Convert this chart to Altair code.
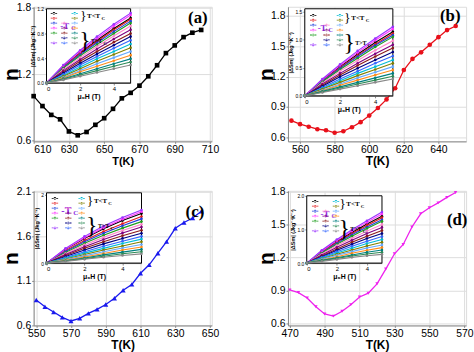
import altair as alt
import pandas as pd

SERIF = "Liberation Serif, Times New Roman, serif"

# ---------------- main curves n(T) ----------------
T_a = [610, 615, 620, 625, 630, 635, 640, 645, 650, 655, 660, 665, 670, 675, 680, 685, 690, 695, 700, 705]
n_a = [1.00, 0.91, 0.83, 0.79, 0.68, 0.645, 0.675, 0.74, 0.80, 0.885, 0.98, 1.03, 1.095, 1.18, 1.28, 1.39, 1.46, 1.535, 1.575, 1.60]

T_b = [555, 560, 565, 570, 575, 580, 585, 590, 595, 600, 605, 610, 615, 620, 625, 630, 635, 640, 645, 650]
n_b = [0.765, 0.73, 0.705, 0.68, 0.67, 0.645, 0.66, 0.70, 0.75, 0.815, 0.89, 0.975, 1.085, 1.265, 1.375, 1.44, 1.515, 1.59, 1.66, 1.70]

T_c = [550, 555, 560, 565, 570, 575, 580, 585, 590, 595, 600, 605, 610, 615, 620, 625, 630, 635, 640, 645]
n_c = [0.885, 0.81, 0.75, 0.69, 0.65, 0.68, 0.735, 0.78, 0.835, 0.905, 0.995, 1.06, 1.185, 1.28, 1.41, 1.54, 1.69, 1.755, 1.805, 1.88]

T_d = [470, 475, 480, 485, 490, 495, 500, 505, 510, 515, 520, 525, 530, 535, 540, 545, 550, 555, 560, 565]
n_d = [0.905, 0.88, 0.83, 0.75, 0.685, 0.665, 0.71, 0.77, 0.84, 0.875, 0.96, 1.095, 1.235, 1.32, 1.48, 1.60, 1.655, 1.70, 1.75, 1.795]

# ---------------- inset curves |dSm|(mu0H) ----------------
H_field = [0, 1, 2, 3, 4, 5]
curve_ids = ["c01", "c02", "c03", "c04", "c05", "c06", "c07", "c08", "c09",
             "c10", "c11", "c12", "c13", "c14", "c15", "c16", "c17", "c18"]
curve_colors = ["#000000", "#e41a1c", "#1f3fdd", "#ff33ff", "#1f9e1f", "#9933ff",
                "#ff88cc", "#800080", "#8b1a1a", "#000080", "#3366ff", "#00bcd4",
                "#808000", "#66aaff", "#ff8c1a", "#008080", "#2e8b57", "#888888"]

dS_a = [[0.27, 0.49, 0.69, 0.88, 1.05], [0.26, 0.48, 0.67, 0.86, 1.03], [0.25, 0.46, 0.65, 0.83, 1.00],
        [0.28, 0.51, 0.72, 0.92, 1.10], [0.24, 0.44, 0.62, 0.80, 0.97], [0.29, 0.53, 0.75, 0.95, 1.13],
        [0.22, 0.41, 0.59, 0.76, 0.92], [0.20, 0.38, 0.55, 0.71, 0.86], [0.18, 0.35, 0.51, 0.66, 0.80],
        [0.16, 0.32, 0.47, 0.61, 0.75], [0.14, 0.29, 0.43, 0.56, 0.69], [0.12, 0.26, 0.39, 0.51, 0.63],
        [0.11, 0.23, 0.35, 0.46, 0.57], [0.09, 0.20, 0.31, 0.41, 0.51], [0.08, 0.18, 0.27, 0.36, 0.45],
        [0.07, 0.15, 0.23, 0.31, 0.39], [0.06, 0.13, 0.20, 0.27, 0.34], [0.05, 0.11, 0.17, 0.23, 0.29]]
dS_b = [[0.28, 0.52, 0.74, 0.95, 1.14], [0.27, 0.50, 0.72, 0.92, 1.11], [0.26, 0.49, 0.70, 0.90, 1.08],
        [0.29, 0.54, 0.77, 0.99, 1.19], [0.25, 0.47, 0.67, 0.87, 1.05], [0.30, 0.56, 0.80, 1.02, 1.23],
        [0.23, 0.44, 0.63, 0.81, 0.98], [0.21, 0.40, 0.58, 0.75, 0.91], [0.19, 0.37, 0.54, 0.70, 0.85],
        [0.17, 0.34, 0.49, 0.64, 0.78], [0.15, 0.30, 0.44, 0.58, 0.71], [0.13, 0.27, 0.40, 0.52, 0.64],
        [0.12, 0.24, 0.36, 0.47, 0.58], [0.10, 0.21, 0.32, 0.42, 0.52], [0.09, 0.19, 0.28, 0.37, 0.46],
        [0.08, 0.16, 0.24, 0.32, 0.40], [0.07, 0.14, 0.21, 0.28, 0.35], [0.06, 0.12, 0.18, 0.24, 0.30]]
dS_c = [[0.40, 0.72, 1.00, 1.24, 1.45], [0.36, 0.66, 0.92, 1.15, 1.36], [0.34, 0.62, 0.87, 1.09, 1.29],
        [0.41, 0.74, 1.03, 1.28, 1.50], [0.31, 0.58, 0.81, 1.02, 1.21], [0.43, 0.78, 1.08, 1.33, 1.55],
        [0.28, 0.53, 0.75, 0.95, 1.13], [0.25, 0.48, 0.69, 0.88, 1.05], [0.22, 0.43, 0.62, 0.80, 0.96],
        [0.19, 0.38, 0.56, 0.72, 0.87], [0.16, 0.33, 0.49, 0.64, 0.78], [0.14, 0.29, 0.43, 0.57, 0.70],
        [0.12, 0.25, 0.38, 0.50, 0.62], [0.10, 0.21, 0.33, 0.44, 0.54], [0.08, 0.18, 0.28, 0.38, 0.47],
        [0.07, 0.15, 0.24, 0.32, 0.40], [0.06, 0.13, 0.20, 0.27, 0.33], [0.05, 0.11, 0.17, 0.22, 0.27]]
dS_d = [[0.34, 0.64, 0.91, 1.16, 1.39], [0.33, 0.62, 0.88, 1.12, 1.35], [0.31, 0.59, 0.84, 1.07, 1.29],
        [0.36, 0.67, 0.95, 1.21, 1.46], [0.30, 0.56, 0.80, 1.03, 1.24], [0.38, 0.70, 0.99, 1.26, 1.52],
        [0.27, 0.52, 0.74, 0.95, 1.15], [0.24, 0.47, 0.68, 0.88, 1.06], [0.21, 0.42, 0.62, 0.80, 0.97],
        [0.19, 0.38, 0.56, 0.73, 0.88], [0.17, 0.34, 0.50, 0.65, 0.79], [0.15, 0.30, 0.44, 0.58, 0.70],
        [0.13, 0.26, 0.39, 0.51, 0.62], [0.11, 0.23, 0.34, 0.45, 0.54], [0.09, 0.19, 0.29, 0.38, 0.46],
        [0.08, 0.16, 0.24, 0.32, 0.39], [0.07, 0.14, 0.21, 0.27, 0.32], [0.05, 0.11, 0.17, 0.22, 0.26]]

# legend grid order (3 columns): T<Tc entries, the Tc entry, then T>Tc entries; blanks keep the rows
legend_order = ["c01", "c02", "c03", "c04", "c05", "_b1", "c06", "_b2", "_b3",
                "c07", "c08", "c09", "c10", "c11", "c12", "c13", "c14", "c15", "c16", "c17", "c18"]

W, HH = 180, 136
SYM = "M-1,-0.12H1V0.12H-1Z M-0.4,0 A0.4,0.4 0 1,0 0.4,0 A0.4,0.4 0 1,0 -0.4,0 Z"


def inset_df(dS):
    rows = []
    for cid, vals in zip(curve_ids, dS):
        for h, v in zip(H_field, [0.0] + vals):
            rows.append({"id": cid, "H": h, "dS": v})
    return pd.DataFrame(rows)


def txt(s, x, y, size, color="black", weight="bold", align="left"):
    return alt.Chart(pd.DataFrame({"t": [s]})).mark_text(
        font=SERIF, fontSize=size, fontWeight=weight, color=color, align=align, baseline="middle"
    ).encode(text="t:N", x=alt.value(x), y=alt.value(y))


def panel(T, n, color, shape, msize, xdom, ydom, xticks, yticks, label, lab_xy, xtitle_size,
          dS, box, ymax, iyticks, iyfmt, leg_xy, colpad, ann):
    df = pd.DataFrame({"T": T, "n": n})
    xenc = alt.X("T:Q", scale=alt.Scale(domain=xdom, nice=False, zero=False),
                 axis=alt.Axis(values=xticks, format="d", title="T(K)", labelFontSize=10.5,
                               titleFontSize=xtitle_size, tickSize=2, labelPadding=1,
                               titleY=14, titleBaseline="top"))
    yenc = alt.Y("n:Q", scale=alt.Scale(domain=ydom, nice=False, zero=False),
                 axis=alt.Axis(values=yticks, format=".1f", title="n", labelFontSize=10.5,
                               titleFontSize=21, tickSize=2, labelPadding=1, titleAngle=270,
                               titleX=-16, titleY=HH / 2, titleBaseline="alphabetic", titleAlign="center"))
    base = alt.Chart(df).encode(x=xenc, y=yenc)
    main = alt.layer(
        base.mark_line(color=color, strokeWidth=1.3),
        base.mark_point(shape=shape, filled=True, color=color, size=msize, opacity=1),
        txt(label, lab_xy[0], lab_xy[1], 17, align="center"),
    )

    x0, x1, y0, y1 = box
    idf = inset_df(dS)
    dom = list(legend_order)
    rng = [curve_colors[curve_ids.index(c)] if c in curve_ids else "rgba(0,0,0,0)" for c in dom]
    cscale = alt.Scale(domain=dom, range=rng)
    leg = alt.Legend(orient="none", legendX=leg_xy[0], legendY=leg_xy[1], columns=3, title=None,
                     labelExpr="''", labelFontSize=1, labelOffset=0, symbolType=SYM, symbolSize=42,
                     symbolStrokeWidth=0, columnPadding=colpad, rowPadding=0, padding=0)
    ix = alt.X("H:Q", scale=alt.Scale(domain=[0, 5], range=[x0, x1], nice=False),
               axis=alt.Axis(orient="bottom", offset=y1 - HH, values=[0, 1, 2, 3, 4, 5], format="d",
                             title="μ₀H (T)", labelFontSize=6, titleFontSize=7, tickSize=2,
                             labelPadding=1, titlePadding=1, labelOverlap=False))
    iy = alt.Y("dS:Q", scale=alt.Scale(domain=[0, ymax], range=[y1, y0], nice=False, zero=True),
               axis=alt.Axis(orient="left", offset=-x0, values=iyticks, format=iyfmt,
                             title="|ΔSm| (Jkg⁻¹K⁻¹)", labelFontSize=5, titleFontSize=5.5, tickSize=2,
                             labelPadding=1, titlePadding=1, labelOverlap=False))
    boxc = alt.Chart(pd.DataFrame({"k": [0]})).mark_rect(fill="white", stroke="black", strokeWidth=1).encode(
        x=alt.datum(0), x2=alt.datum(5), y=alt.datum(0), y2=alt.datum(ymax))
    lines = alt.Chart(idf).mark_line(strokeWidth=1.1).encode(
        x=ix, y=iy, color=alt.Color("id:N", scale=cscale, legend=leg), detail="id:N")
    pts = alt.Chart(idf).mark_point(filled=True, size=7, opacity=1).encode(
        x="H:Q", y="dS:Q", color=alt.Color("id:N", scale=cscale, legend=leg))
    ann_layers = [txt(*a) for a in ann]
    inset = alt.layer(boxc, lines, pts, *ann_layers)
    return alt.layer(main, inset).resolve_scale(x="independent", y="independent").properties(width=W, height=HH)


def ann_set(lt, tc, gt, tcsize=9):
    out = []
    out.append(("}", lt[0], lt[1], 13, "black", "normal"))
    out.append(("T<T", lt[0] + 7, lt[1], 7))
    out.append(("C", lt[0] + 7 + 14.5, lt[1] + 2, 5))
    out.append(("-T", tc[0], tc[1], tcsize, "#8a2be2"))
    out.append(("C", tc[0] + tcsize + 2, tc[1] + 2, tcsize - 3, "#8a2be2"))
    out.append(("}", gt[0], gt[1], 24, "black", "normal"))
    out.append(("T>T", gt[0] + 12, gt[1], 6))
    out.append(("C", gt[0] + 12 + 12.5, gt[1] + 2, 5))
    return out


pa = panel(T_a, n_a, "black", "square", 22, [610, 711], [0.59, 1.81],
           [610, 630, 650, 670, 690, 710], [0.6, 1.2, 1.8], "(a)", (166, 11), 11,
           dS_a, (13, 98, 2, 77), 1.2, [0, 0.4, 0.8, 1.2], ".1f", (17, 3), 3.5,
           ann_set((47, 9), (27, 19), (46, 35)))
pb = panel(T_b, n_b, "#e8101a", "circle", 22, [553, 656], [0.56, 1.89],
           [560, 580, 600, 620, 640], [0.6, 0.9, 1.2, 1.5, 1.8], "(b)", (164, 9), 12,
           dS_b, (17, 106, 2, 90), 1.55, [0, 0.5, 1.0, 1.5], ".1f", (22, 5), 6.5,
           ann_set((57, 11), (30, 21), (56, 37)))
pc = panel(T_c, n_c, "#1a1aee", "triangle-up", 26, [548.5, 651], [0.6, 2.11],
           [550, 570, 590, 610, 630, 650], [0.6, 1.1, 1.6, 2.1], "(c)", (163, 21), 12,
           dS_c, (13, 109, 2, 73), 2.05, [0, 1, 2], "d", (18, 4), 6.5,
           ann_set((54, 10), (28, 20), (53, 36), tcsize=10))
pd_ = panel(T_d, n_d, "#ee22ee", "triangle-down", 12, [469, 571], [0.58, 1.81],
            [470, 490, 510, 530, 550, 570], [0.6, 0.9, 1.2, 1.5, 1.8], "(d)", (171, 30), 12,
            dS_d, (19, 95, 5, 73), 2.0, [0, 0.5, 1.0, 1.5, 2.0], ".1f", (24, 7), 3.5,
            ann_set((52, 13), (33, 23), (51, 39)))

chart = alt.concat(
    pa, pb, pc, pd_, columns=2, spacing={"row": 50, "column": 77}, bounds="flush",
).resolve_scale(color="independent").properties(
    padding={"left": 0, "top": 0, "right": 0, "bottom": 0}
).configure_view(stroke="black", strokeWidth=1.3).configure_axis(
    grid=False, labelFont=SERIF, titleFont=SERIF, labelFontWeight="bold", titleFontWeight="bold",
    labelColor="black", titleColor="black", tickColor="black", domainColor="black"
).configure(background="white")

chart.save("out.html", embed_options={"renderer": "svg", "actions": False})
